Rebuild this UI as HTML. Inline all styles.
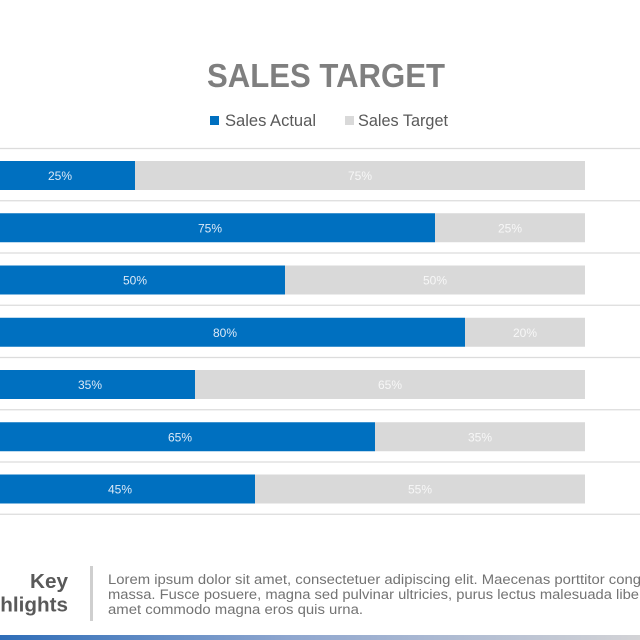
<!DOCTYPE html>
<html>
<head>
<meta charset="utf-8">
<style>
  html, body { margin: 0; padding: 0; background: #ffffff; }
  body { width: 640px; height: 640px; overflow: hidden; }
  svg { display: block; }
</style>
</head>
<body>
<svg width="640" height="640" viewBox="0 0 640 640" xmlns="http://www.w3.org/2000/svg" font-family="Liberation Sans, Arial, sans-serif">
  <defs>
    <linearGradient id="band" x1="0" y1="0" x2="1" y2="0">
      <stop offset="0" stop-color="#2e6db8"/>
      <stop offset="0.45" stop-color="#8ea6cf"/>
      <stop offset="1" stop-color="#d3d3d6"/>
    </linearGradient>
  </defs>
  <rect x="0" y="0" width="640" height="640" fill="#ffffff"/>

  <!-- Title -->
  <text x="207" y="87" font-size="33" font-weight="bold" fill="#7f7f7f" textLength="238" lengthAdjust="spacingAndGlyphs">SALES TARGET</text>

  <!-- Legend -->
  <rect x="210" y="116" width="9" height="9" fill="#0070c0"/>
  <text x="225" y="126" font-size="16.5" fill="#595959" textLength="91" lengthAdjust="spacingAndGlyphs">Sales Actual</text>
  <rect x="345" y="116" width="9" height="9" fill="#d9d9d9"/>
  <text x="358" y="126" font-size="16.5" fill="#595959" textLength="90" lengthAdjust="spacingAndGlyphs">Sales Target</text>

  <!-- Grid lines -->
  <g stroke="#dcdcdc" stroke-width="1.2">
    <line x1="0" y1="148.5" x2="640" y2="148.5"/>
    <line x1="0" y1="200.75" x2="640" y2="200.75"/>
    <line x1="0" y1="253" x2="640" y2="253"/>
    <line x1="0" y1="305.25" x2="640" y2="305.25"/>
    <line x1="0" y1="357.5" x2="640" y2="357.5"/>
    <line x1="0" y1="409.75" x2="640" y2="409.75"/>
    <line x1="0" y1="462" x2="640" y2="462"/>
    <line x1="0" y1="514.25" x2="640" y2="514.25"/>
  </g>

  <!-- Bars -->
  <g font-size="12" text-anchor="middle">
    <rect x="-15" y="161" width="150" height="29" fill="#0070c0"/>
    <rect x="135" y="161" width="450" height="29" fill="#d9d9d9"/>
    <text x="60" y="180" fill="#dce9f7">25%</text>
    <text x="360" y="180" fill="#f7f7f7">75%</text>

    <rect x="-15" y="213.25" width="450" height="29" fill="#0070c0"/>
    <rect x="435" y="213.25" width="150" height="29" fill="#d9d9d9"/>
    <text x="210" y="232.25" fill="#dce9f7">75%</text>
    <text x="510" y="232.25" fill="#f7f7f7">25%</text>

    <rect x="-15" y="265.5" width="300" height="29" fill="#0070c0"/>
    <rect x="285" y="265.5" width="300" height="29" fill="#d9d9d9"/>
    <text x="135" y="284.5" fill="#dce9f7">50%</text>
    <text x="435" y="284.5" fill="#f7f7f7">50%</text>

    <rect x="-15" y="317.75" width="480" height="29" fill="#0070c0"/>
    <rect x="465" y="317.75" width="120" height="29" fill="#d9d9d9"/>
    <text x="225" y="336.75" fill="#dce9f7">80%</text>
    <text x="525" y="336.75" fill="#f7f7f7">20%</text>

    <rect x="-15" y="370" width="210" height="29" fill="#0070c0"/>
    <rect x="195" y="370" width="390" height="29" fill="#d9d9d9"/>
    <text x="90" y="389" fill="#dce9f7">35%</text>
    <text x="390" y="389" fill="#f7f7f7">65%</text>

    <rect x="-15" y="422.25" width="390" height="29" fill="#0070c0"/>
    <rect x="375" y="422.25" width="210" height="29" fill="#d9d9d9"/>
    <text x="180" y="441.25" fill="#dce9f7">65%</text>
    <text x="480" y="441.25" fill="#f7f7f7">35%</text>

    <rect x="-15" y="474.5" width="270" height="29" fill="#0070c0"/>
    <rect x="255" y="474.5" width="330" height="29" fill="#d9d9d9"/>
    <text x="120" y="493.5" fill="#dce9f7">45%</text>
    <text x="420" y="493.5" fill="#f7f7f7">55%</text>
  </g>

  <!-- Key Highlights -->
  <g font-size="20" font-weight="bold" fill="#595959">
    <text x="30" y="588" textLength="38" lengthAdjust="spacingAndGlyphs">Key</text>
    <text x="-33" y="611.5" textLength="101" lengthAdjust="spacingAndGlyphs">Highlights</text>
  </g>
  <rect x="90" y="566" width="3" height="55" fill="#cfcfcf"/>

  <g font-size="13.5" fill="#737373">
    <text x="108" y="584" textLength="533" lengthAdjust="spacingAndGlyphs">Lorem ipsum dolor sit amet, consectetuer adipiscing elit. Maecenas porttitor cong</text>
    <text x="108" y="599" textLength="531" lengthAdjust="spacingAndGlyphs">massa. Fusce posuere, magna sed pulvinar ultricies, purus lectus malesuada libe</text>
    <text x="108" y="614" textLength="255" lengthAdjust="spacingAndGlyphs">amet commodo magna eros quis urna.</text>
  </g>

  <!-- Bottom gradient band -->
  <rect x="0" y="635" width="640" height="5" fill="url(#band)"/>
</svg>
</body>
</html>
